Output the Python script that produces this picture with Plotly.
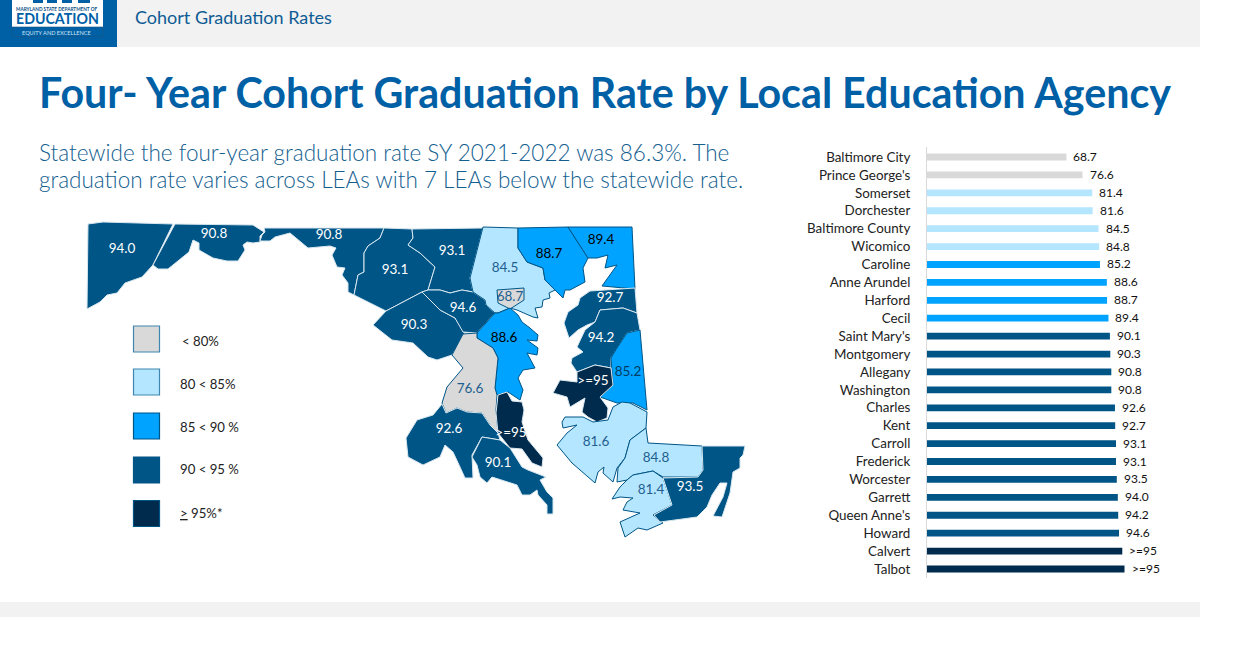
import plotly.graph_objects as go

FONT = 'Lato, sans-serif'
GREY, LIGHT, MID, DARK, NAVY = '#D9D9D9', '#B5E6FF', '#00A3FF', '#005587', '#002B4C'
HEAD = '#0060A6'

# bar chart data, top to bottom (>=95 bars have no printed value, length)
LEAS = ['Baltimore City', "Prince George's", 'Somerset', 'Dorchester', 'Baltimore County',
        'Wicomico', 'Caroline', 'Anne Arundel', 'Harford', 'Cecil', "Saint Mary's",
        'Montgomery', 'Allegany', 'Washington', 'Charles', 'Kent', 'Carroll', 'Frederick',
        'Worcester', 'Garrett', "Queen Anne's", 'Howard', 'Calvert', 'Talbot']
RATES = [68.7, 76.6, 81.4, 81.6, 84.5, 84.8, 85.2, 88.6, 88.7, 89.4, 90.1, 90.3, 90.8, 90.8,
         92.6, 92.7, 93.1, 93.1, 93.5, 94.0, 94.2, 94.6, 96.2, 97.3]
RATE_TEXT = ['68.7', '76.6', '81.4', '81.6', '84.5', '84.8', '85.2', '88.6', '88.7', '89.4',
             '90.1', '90.3', '90.8', '90.8', '92.6', '92.7', '93.1', '93.1', '93.5', '94.0',
             '94.2', '94.6', '>=95', '>=95']
LEGEND_LABELS = ['&lt; 80%', '80 &lt; 85%', '85 &lt; 90 %', '90 &lt; 95 %', '<u>&gt;</u> 95%*']
LEGEND_COLORS = [GREY, LIGHT, MID, DARK, NAVY]
LEGEND_Y = [339, 382, 426, 470, 513.5]
LEGEND_TEXT_Y = [341, 384, 427, 469, 513]
LEGEND_TEXT_X = [180, 178, 178, 178, 178]

# county outlines, in page pixels
OUTLINES = {
    'Garrett': [(88,224),(103,222),(173,224),(153,265),(142,277),(125,283),(117,293),(107,295),(100,302),(87,309)],
    'Allegany': [(175,224),(253,225),(264,232),(260,236),(260,242),(253,243),(247,242),(243,245),(245,250),(238,261),
                 (227,261),(213,258),(199,250),(199,243),(193,240),(189,252),(168,269),(158,269),(153,265)],
    'Washington': [(264,228),(384,228),(380,238),(368,246),(364,253),(364,272),(358,275),(354,295),(348,292),(348,283),
                   (342,275),(345,268),(337,267),(332,255),(336,248),(330,246),(308,248),(290,233),(275,237),(270,241),
                   (260,241),(262,235),(265,232)],
    'Frederick': [(384,228),(412,229),(413,238),(408,245),(420,253),(435,267),(428,290),(422,292),(386,311),(354,295),
                  (358,275),(364,272),(364,253),(368,246),(380,238)],
    'Carroll': [(412,229),(483,228),(470,278),(473,292),(462,290),(450,293),(440,290),(428,290),(435,267),(420,253),
                (408,245),(413,238)],
    'Montgomery': [(422,292),(440,310),(455,318),(463,332),(465,334),(452,355),(437,360),(428,357),(413,343),(392,340),
                   (373,325),(386,311)],
    'Howard': [(422,292),(428,290),(440,290),(450,293),(462,290),(473,292),(485,300),(486,305),(495,313),(477,333),
               (463,332),(455,318),(440,310)],
    'Baltimore County': [(483,227),(518,228),(518,248),(527,262),(543,268),(545,280),(555,290),(549,293),(550,298),
                         (543,300),(542,307),(535,308),(538,318),(533,317),(517,310),(510,308),(498,313),(495,313),
                         (486,305),(485,300),(473,292),(470,278)],
    'Baltimore City': [(497,290),(524,288),(524,300),(510,309),(498,303)],
    'Harford': [(518,228),(568,227),(588,258),(583,268),(585,282),(570,290),(565,290),(563,298),(557,292),(555,290),
                (545,280),(543,268),(527,262),(518,248)],
    'Cecil': [(568,227),(632,227),(635,289),(602,286),(617,265),(605,268),(608,255),(597,258),(588,258)],
    'Kent': [(590,291),(635,288),(637,313),(623,308),(600,310),(595,322),(587,325),(578,330),(569,338),(564,323),
             (568,312),(578,305),(580,298)],
    "Queen Anne's": [(600,310),(623,308),(637,313),(640,330),(627,333),(617,348),(611,358),(611,368),(595,365),(577,372),
                     (571,363),(572,358),(583,352),(577,347),(585,330),(595,322)],
    'Caroline': [(640,330),(647,410),(633,403),(617,403),(600,397),(613,385),(611,358),(617,348),(627,333)],
    'Talbot': [(577,372),(595,365),(611,368),(613,385),(600,397),(608,408),(607,418),(597,422),(588,417),(582,412),
               (585,398),(570,407),(567,397),(553,393),(560,380),(577,382)],
    'Anne Arundel': [(495,313),(498,313),(510,308),(518,315),(522,322),(530,328),(538,335),(537,341),(527,340),(538,348),
                     (537,355),(527,353),(535,368),(523,370),(518,378),(523,390),(520,400),(508,392),(497,395),(495,388),
                     (498,358),(493,348),(477,338),(477,333)],
    "Prince George's": [(463,334),(477,333),(477,338),(493,348),(498,358),(495,388),(497,395),(496,410),(498,433),(490,425),
                        (482,413),(467,412),(457,408),(446,413),(442,403),(447,387),(463,368),(452,355)],
    'Calvert': [(498,395),(507,392),(512,401),(522,402),(524,410),(522,422),(528,440),(543,458),(542,467),(532,463),
                (522,449),(510,448),(498,433),(496,413)],
    'Charles': [(442,404),(446,413),(457,408),(467,412),(482,413),(490,425),(498,433),(500,440),(482,437),(472,455),
                (473,478),(465,478),(460,467),(453,452),(445,445),(440,457),(423,465),(408,457),(406,438),(417,420),(433,415)],
    "Saint Mary's": [(482,437),(500,440),(510,448),(522,467),(528,470),(546,477),(540,480),(547,492),(553,498),(553,514),
                     (547,514),(547,505),(538,495),(537,490),(530,495),(522,495),(517,485),(492,477),(487,483),(480,477),
                     (477,465),(472,457)],
    'Dorchester': [(562,422),(565,417),(583,417),(593,422),(608,420),(613,407),(622,402),(630,403),(647,412),(646,428),
                   (630,440),(625,458),(617,468),(613,482),(603,473),(604,467),(598,472),(595,483),(572,463),(557,445),
                   (567,433),(577,425),(563,428)],
    'Wicomico': [(646,428),(648,443),(702,446),(703,470),(698,477),(663,477),(653,471),(633,475),(627,480),(617,482),
                 (618,468),(625,458),(630,440)],
    'Somerset': [(612,499),(620,487),(627,480),(633,475),(653,471),(663,478),(672,505),(653,515),(663,523),(647,530),
                 (638,528),(625,537),(620,522),(640,513),(623,510),(627,502),(633,498),(620,497)],
    'Worcester': [(702,446),(745,446),(743,455),(740,458),(740,468),(733,472),(730,493),(722,517),(713,516),(723,497),
                  (727,483),(720,483),(712,495),(707,507),(697,517),(660,522),(654,515),(672,505),(663,478),(698,477),(703,470)],
}
LABEL_AT = {
    'Garrett': (122,250), 'Allegany': (214,235), 'Washington': (329,236), 'Frederick': (395,271), 'Carroll': (452,252),
    'Baltimore County': (505,269), 'Baltimore City': (510,298), 'Harford': (549,255), 'Cecil': (601,241),
    'Kent': (610,299), 'Howard': (463,309), 'Montgomery': (414,326), 'Anne Arundel': (504,339),
    "Queen Anne's": (601,339), 'Talbot': (593,382), 'Caroline': (628,373), "Prince George's": (470,390),
    'Charles': (449,430), 'Calvert': (511,434), "Saint Mary's": (498,464), 'Dorchester': (596,443),
    'Wicomico': (656,459), 'Somerset': (651,491), 'Worcester': (690,488),
}
# cut-off letters of the logo at the very top of the page
LOGO_STUBS = [(33, 43), (47, 57), (62, 72), (78, 90)]


def band_color(v):
    if v < 80: return GREY
    if v < 85: return LIGHT
    if v < 90: return MID
    if v < 95: return DARK
    return NAVY


def label_color(v):
    if v < 85: return '#1F5F8F'
    if v < 85.5: return '#003B63'
    if v < 90: return '#000000'
    return '#FFFFFF'


fig = go.Figure()

# map, on an axis that runs in page pixels
for name, pts in OUTLINES.items():
    v = RATES[LEAS.index(name)]
    edge = '#D8E6EE' if v >= 90 else DARK
    fig.add_trace(go.Scatter(x=[p[0] for p in pts] + [pts[0][0]], y=[p[1] for p in pts] + [pts[0][1]],
                             mode='lines', fill='toself', fillcolor=band_color(v),
                             line=dict(color=edge, width=1), hoverinfo='text', text=name))
fig.add_trace(go.Scatter(x=[LABEL_AT[n][0] for n in OUTLINES], y=[LABEL_AT[n][1] for n in OUTLINES],
                         mode='text', text=[RATE_TEXT[LEAS.index(n)] for n in OUTLINES],
                         textfont=dict(family=FONT, size=13.5, color=[label_color(RATES[LEAS.index(n)]) for n in OUTLINES]),
                         hoverinfo='skip'))

# bars
fig.add_trace(go.Bar(x=RATES, y=LEAS, orientation='h', xaxis='x2', yaxis='y2', width=0.38,
                     marker=dict(color=[band_color(v) for v in RATES], line_width=0),
                     hovertemplate='%{y}: %{x}<extra></extra>'))

shapes = [
    dict(type='rect', xref='x', yref='y', x0=0, x1=117, y0=0, y1=47, fillcolor=HEAD, line_width=0, layer='below'),
    dict(type='rect', xref='x', yref='y', x0=117, x1=1200, y0=0, y1=47, fillcolor='#F2F2F2', line_width=0, layer='below'),
    dict(type='rect', xref='x', yref='y', x0=0, x1=1200, y0=602, y1=617, fillcolor='#F2F2F2', line_width=0, layer='below'),
    dict(type='rect', xref='x', yref='y', x0=12, x1=103, y0=0, y1=27, fillcolor='#FFFFFF', line_width=0, layer='below'),
    dict(type='rect', xref='x', yref='y', x0=12, x1=103, y0=27, y1=36.5, line=dict(color='#1A5480', width=0.6), layer='below'),
]
for x0, x1 in LOGO_STUBS:
    shapes.append(dict(type='rect', xref='x', yref='y', x0=x0, x1=x1, y0=0, y1=3, fillcolor=HEAD, line_width=0))
for y, c in zip(LEGEND_Y, LEGEND_COLORS):
    shapes.append(dict(type='rect', xref='x', yref='y', x0=133.5, x1=159.5, y0=y-13, y1=y+13, fillcolor=c,
                       line=dict(color='#3F87B0' if c in (GREY, LIGHT) else DARK, width=1.2)))

# the span on the t keeps the browser from joining "ti" into one glyph
TI = '<span style="color:#0060A7">t</span>'
ann = [
    dict(x=133, y=17, text='Cohort Graduation Rates', font=dict(size=18, color='#0F5C94')),
    dict(x=37, y=92, text=f'<b>Four- Year Cohort Gradua{TI}ion Rate by Local Educa{TI}ion Agency</b>',
         font=dict(size=41.2, color=HEAD)),
    dict(x=37, y=152, text='Statewide the four-year graduation rate SY 2021-2022 was 86.3%. The',
         font=dict(size=22.5, weight=300, color='#13608F')),
    dict(x=37, y=179, text='graduation rate varies across LEAs with 7 LEAs below the statewide rate.',
         font=dict(size=22.5, weight=300, color='#13608F')),
    dict(x=14, y=8.5, text='<b>MARYLAND STATE DEPARTMENT OF</b>', font=dict(size=4.7, color='#0B4F86')),
    dict(x=14, y=18, text='<b>EDUCATION</b>', font=dict(size=14.2, color=HEAD)),
    dict(x=20, y=32, text='EQUITY AND EXCELLENCE', font=dict(size=5.6, color='#CFE3F2')),
]
for x, y, t in zip(LEGEND_TEXT_X, LEGEND_TEXT_Y, LEGEND_LABELS):
    ann.append(dict(x=x, y=y, text=t, font=dict(size=13.2, color='#222222')))
for a in ann:
    a.update(xref='x', yref='y', xanchor='left', yanchor='middle', showarrow=False)
    a['font']['family'] = FONT
for lea, v, t in zip(LEAS, RATES, RATE_TEXT):
    ann.append(dict(xref='x2', yref='y2', x=v, y=lea, text=t.replace('>', '&gt;'), xshift=5, yshift=0.5,
                    xanchor='left', yanchor='middle', showarrow=False,
                    font=dict(family=FONT, size=12, color='#111111')))

W, H = 1256, 659
fig.update_layout(
    width=W, height=H, margin=dict(l=0, r=0, t=0, b=0), showlegend=False,
    paper_bgcolor='white', plot_bgcolor='rgba(0,0,0,0)', font=dict(family=FONT),
    shapes=shapes, annotations=ann,
    xaxis=dict(range=[0, W], domain=[0, 1], visible=False, fixedrange=True),
    yaxis=dict(range=[H, 0], domain=[0, 1], visible=False, fixedrange=True),
    xaxis2=dict(anchor='y2', domain=[927/W, 1175/W], range=[0, 248/2.03], visible=False),
    yaxis2=dict(anchor='x2', domain=[1-578/H, 1-147/H], categoryorder='array', categoryarray=LEAS[::-1],
                showline=True, linecolor='#D9D9D9', linewidth=1, ticks='', ticklen=0, showgrid=False,
                tickfont=dict(family=FONT, size=13.4, color='#222222'), ticklabelstandoff=13),
)

fig.write_html("out.html", config={'displayModeBar': False},
               post_script="document.body.style.margin='0';document.documentElement.style.overflow='hidden';")
